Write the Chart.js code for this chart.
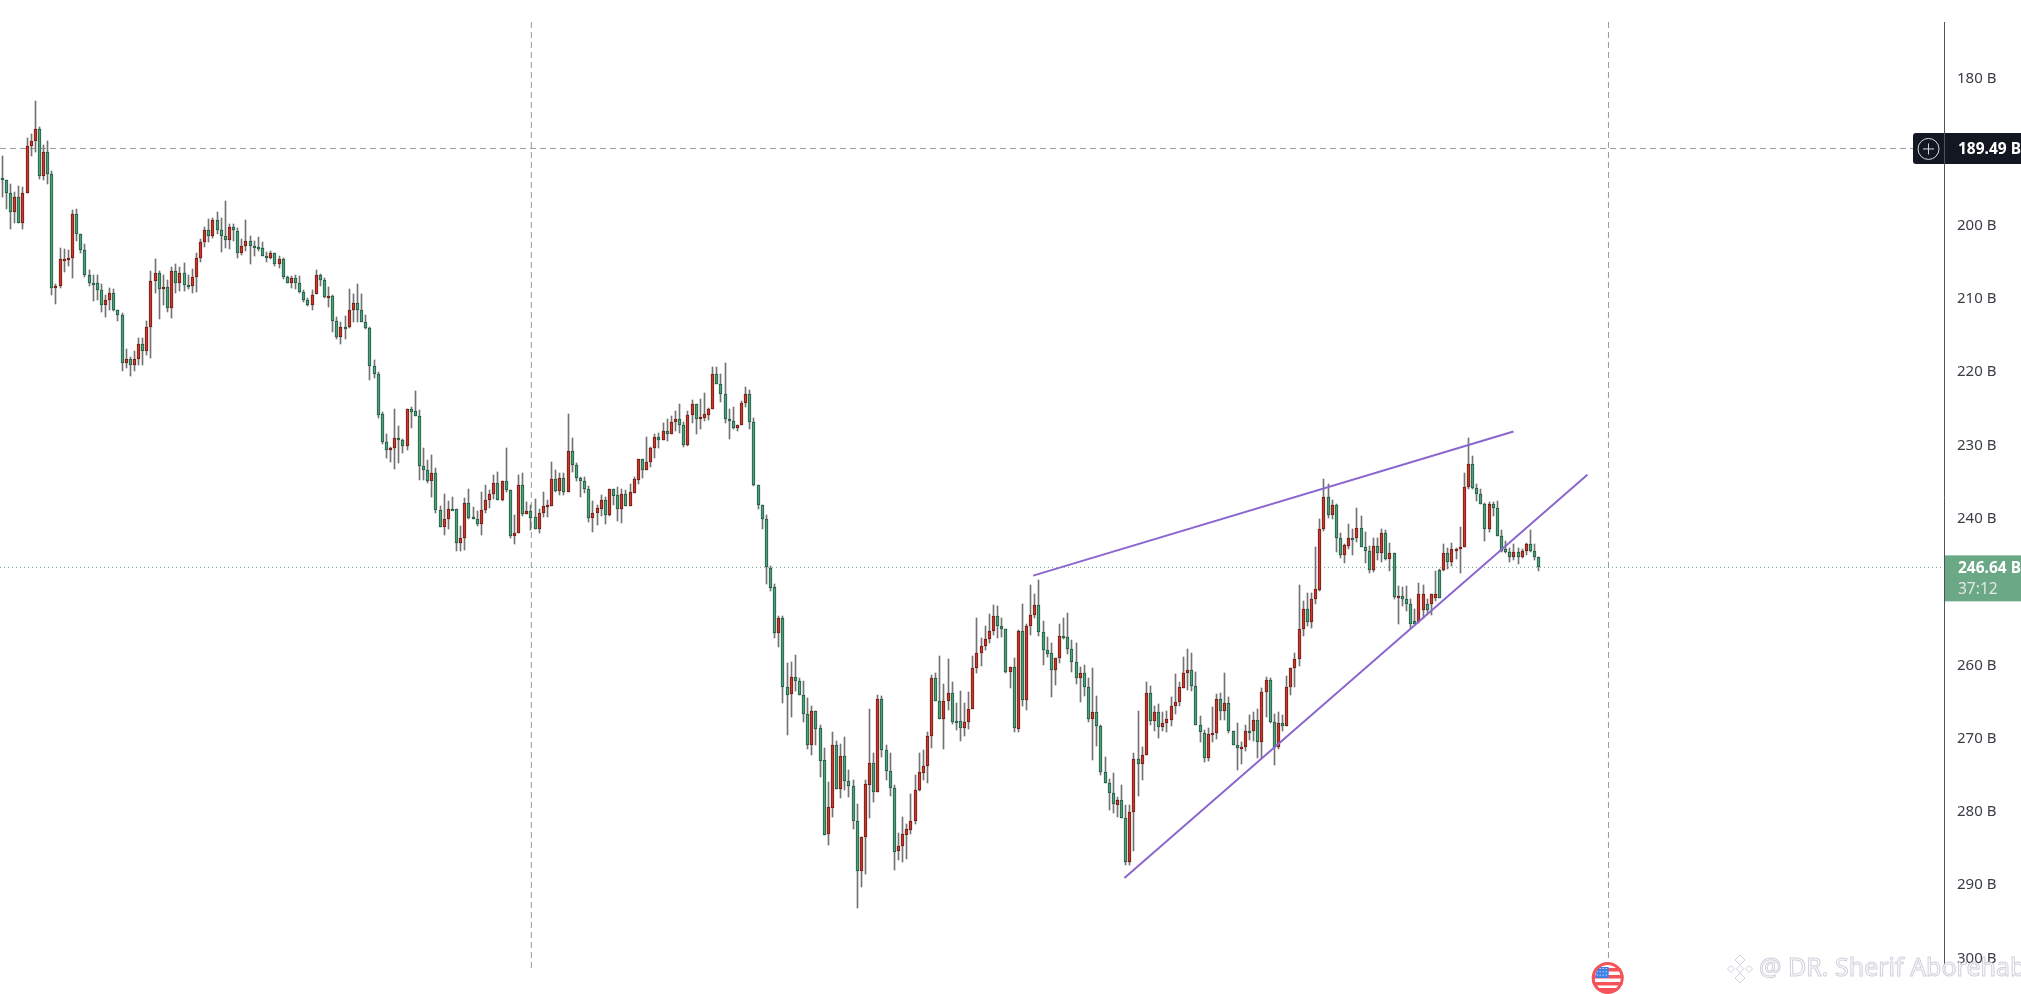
<!DOCTYPE html>
<html>
<head>
<meta charset="utf-8">
<title>Candles</title>
<script src="https://cdn.jsdelivr.net/npm/chart.js@4"></script>
<style>
  html, body { margin: 0; padding: 0; background: #fff; overflow: hidden; }
  canvas { display: block; }
</style>
</head>
<body>
<canvas id="chart" width="2021" height="994"></canvas>
<script>
// price axis is flipped: small values sit at the top of the picture
const tickValues = [180, 200, 210, 220, 230, 240, 260, 270, 280, 290, 300];
const markedPrice = 189.49;
const lastPrice = 246.64;
const countdown = '37:12';
const sessionBreaks = [128.1, 388.9];
const upperTrend = [[249.6, 247.77], [365.9, 228.1]];
const lowerTrend = [[271.7, 289.0], [383.8, 234.0]];

// one letter per candle, G = green, R = red
const candleSides = (
  'GGGRGRRRRG' + 'RGGRRRRRGG' + 'GGGGGRRGGG' + 'RGRRGRRRGR' + 'GRGRGGRRRR' + 'GRGGGRGGRR' + 'GGGGGRGRGG' + 'RGGGGRRGGR' +
  'GGRGRRGGGG' + 'GGGGRRGGRG' + 'GGGGRGGRRG' + 'GRRGGGRRRR' + 'GRGGRRGRGG' + 'RRRRGRGRGG' + 'GGGRRRGRGG' + 'RGRRRGRRRG' +
  'RGRRGGRRGR' + 'RRRGGGGGRR' + 'RGGGGGGGRG' + 'GRGGGGRGGG' + 'RRGRGGGGRR' + 'RGRGGGGRRR' + 'RRRRRRGGRR' + 'GGGRRRRRRR' +
  'RGGGRGRGRR' + 'RGGGGRRGGG' + 'GRGGRGGGGG' + 'RGGRRGRRGR' + 'GRRRRRRRGG' + 'GGRRRGRGGG' + 'RRGRGRRGGR' + 'GRRRRRGRRR' +
  'RGRGGRRGRG' + 'GGRGRGRGRG' + 'GGGRRGRRGR' + 'GRRRRRGGGG' + 'RGGGGGRGRR' + 'GGG'
).split('');

const wickTop = [
  190.5,193.8,194.3,195.4,194.6,194.7,188.1,187.5,183.0,186.5,189.0,188.5,192.6,208.0,203.1,203.2,203.3,197.9,197.8,201.2,
  202.5,206.1,206.8,206.8,208.0,209.5,208.5,208.6,211.5,212.0,216.8,217.9,217.1,215.4,215.4,213.0,206.2,204.6,206.2,206.7,
  207.5,205.7,205.2,205.7,205.1,206.7,205.9,203.8,201.8,200.2,199.1,199.0,198.1,199.0,196.6,199.8,199.8,200.4,201.9,199.2,
  201.5,202.1,201.6,202.2,203.6,203.5,203.7,204.1,204.5,206.9,206.9,206.8,206.9,208.8,209.9,208.8,206.1,206.6,207.2,208.4,
  209.5,212.5,213.1,212.4,208.6,209.4,208.0,209.4,212.2,213.8,218.3,220.0,225.5,228.4,230.2,225.0,227.3,229.1,225.1,224.8,
  222.6,225.2,230.3,232.0,231.3,233.1,238.3,236.6,237.6,237.1,238.7,241.0,237.2,235.9,238.4,238.9,236.4,235.4,236.1,234.1,
  233.6,234.8,230.4,236.1,239.5,234.0,233.8,237.7,238.1,237.3,238.7,236.4,237.4,232.3,233.3,233.7,233.7,225.7,229.0,232.4,
  234.3,234.3,235.5,237.6,238.1,236.7,237.1,236.0,236.0,235.7,235.9,236.1,235.3,234.3,231.8,231.8,228.8,230.2,228.4,228.3,
  226.9,226.4,226.0,225.3,224.4,226.8,225.3,223.8,224.3,223.7,222.8,224.9,219.3,219.3,220.2,218.7,225.1,224.8,227.2,224.0,
  222.0,222.5,226.2,235.4,238.1,239.5,246.4,248.9,253.3,253.3,259.7,259.6,258.6,261.8,262.2,264.5,265.6,266.3,268.2,271.3,
  275.9,269.1,270.3,270.8,269.8,274.3,275.6,278.9,283.4,275.6,265.9,272.0,264.0,264.2,270.9,271.9,276.3,282.9,280.7,281.6,
  277.6,275.0,272.0,271.6,269.1,261.3,261.0,258.7,262.5,259.2,262.3,265.2,263.5,265.2,263.6,258.7,253.5,256.3,254.7,253.0,
  251.8,251.9,253.6,255.0,260.2,259.0,255.2,251.6,254.3,249.0,250.3,248.4,253.9,256.1,257.0,259.0,254.3,253.5,252.8,256.6,
  257.0,260.2,260.0,261.7,260.3,264.2,268.2,272.5,275.5,274.7,278.0,276.3,279.0,279.0,271.9,266.3,271.1,262.3,262.8,265.6,
  265.3,266.4,266.3,264.3,261.2,262.3,258.9,257.8,258.3,260.9,266.9,268.8,268.6,265.7,263.9,263.8,261.1,264.3,268.9,267.9,
  270.4,268.1,266.8,266.4,266.0,263.1,261.6,261.7,266.6,266.4,266.8,261.5,260.3,258.3,249.0,251.2,250.2,250.1,243.8,240.0,
  234.6,235.2,237.4,238.0,242.0,243.5,240.7,241.4,238.6,239.6,241.8,243.7,242.6,242.6,241.4,241.5,243.3,244.7,249.2,249.3,
  249.2,251.0,252.3,248.8,249.0,251.0,250.3,247.1,246.9,243.4,244.0,243.3,244.0,241.2,233.8,229.0,231.4,235.3,236.0,237.9,
  237.7,237.7,237.6,241.5,243.1,244.0,243.4,244.0,244.2,243.3,241.6,243.4,245.2
];

const bodyTop = [
  193.5,193.8,195.5,196.1,196.1,195.5,189.1,188.5,186.9,186.8,190.0,190.0,193.0,208.3,204.6,204.6,204.4,198.4,198.4,201.2,
  203.3,206.7,207.8,207.9,208.8,210.2,209.2,209.2,211.5,212.2,218.2,218.2,218.2,216.1,216.1,213.8,207.6,206.5,206.5,208.4,
  208.4,206.2,206.2,206.5,206.5,208.1,207.0,204.4,202.3,200.6,200.6,199.3,199.3,200.6,201.5,200.2,200.2,200.7,202.8,202.1,
  202.1,202.8,202.9,203.1,204.1,203.8,203.8,204.6,204.6,207.0,207.2,207.2,207.9,209.1,210.1,209.5,206.7,206.7,207.4,209.6,
  209.6,213.0,213.8,213.8,211.5,210.6,210.6,211.5,213.1,214.0,219.2,220.3,225.7,229.5,230.3,229.0,229.0,229.2,225.1,225.1,
  225.3,226.0,232.8,233.3,233.8,233.8,238.8,240.1,238.7,238.7,238.7,242.7,237.9,237.9,239.8,240.0,238.8,237.5,236.6,235.1,
  235.1,234.9,234.9,236.1,241.9,235.4,235.4,239.0,239.0,239.8,239.2,238.3,238.1,234.6,234.6,234.4,234.4,230.7,230.7,232.7,
  234.5,234.9,235.9,239.2,238.5,237.4,237.4,236.0,236.0,236.8,236.6,236.6,236.4,234.6,231.9,231.9,232.3,230.3,228.9,228.9,
  228.1,228.1,226.8,226.4,226.4,227.2,225.9,224.4,224.4,226.1,225.7,225.1,220.3,220.3,221.6,223.0,226.4,226.7,227.2,224.2,
  223.0,223.0,226.8,235.4,238.1,240.1,246.7,249.3,253.5,253.5,262.9,261.6,261.6,262.1,264.0,266.6,266.3,266.3,268.6,272.9,
  279.3,270.9,270.9,272.4,272.4,275.8,276.5,281.3,283.4,276.2,273.3,273.3,264.6,264.6,271.5,274.4,276.7,284.6,283.0,282.3,
  281.3,277.0,274.6,273.7,269.6,261.7,261.7,264.9,264.9,263.8,263.8,267.6,267.6,267.7,265.9,260.4,258.3,257.3,256.4,255.3,
  253.3,253.3,254.6,255.0,260.2,260.2,255.3,255.3,254.6,253.1,251.8,251.8,255.5,257.9,258.3,259.0,256.0,256.0,256.1,257.8,
  259.6,261.1,261.1,263.0,266.4,266.4,268.3,274.5,276.1,277.4,278.4,278.4,280.8,280.0,272.8,272.8,272.3,263.8,263.8,266.4,
  266.4,267.9,267.3,265.6,265.0,263.0,261.0,260.6,260.6,262.8,268.1,269.2,269.4,269.3,264.6,264.6,265.1,265.1,268.9,270.9,
  271.1,268.9,268.9,267.5,267.5,263.7,262.0,262.0,267.7,267.9,267.9,262.9,260.3,259.1,255.1,252.3,252.3,250.9,249.6,241.4,
  237.0,237.0,238.1,238.1,242.6,243.6,242.7,242.7,241.3,241.3,243.9,244.4,243.7,243.7,242.0,242.0,244.7,244.7,250.5,250.5,
  250.9,251.7,254.0,250.3,250.3,251.7,250.3,250.3,247.0,244.7,244.7,244.1,244.1,243.9,235.7,232.5,232.5,235.8,236.6,238.0,
  238.0,238.0,238.5,242.3,244.2,244.5,244.5,244.5,244.4,243.5,243.5,244.4,245.2
];

const bodyBottom = [
  193.8,195.5,198.2,198.2,199.7,199.7,195.5,189.1,188.5,193.2,193.2,193.0,208.5,208.5,208.3,204.7,204.6,204.4,201.2,203.3,
  206.7,207.8,207.9,208.8,210.9,210.9,210.2,211.5,212.2,218.7,218.7,219.0,219.0,218.2,217.1,217.1,213.8,207.6,208.7,208.7,
  211.3,211.3,207.9,207.9,208.1,208.3,208.3,207.0,204.4,202.3,201.5,201.5,200.6,201.5,202.0,202.0,200.6,203.7,203.7,202.8,
  202.8,203.0,203.0,204.1,204.5,204.5,205.3,205.3,207.0,207.8,207.8,207.9,209.1,210.1,210.9,210.9,209.4,207.4,209.8,209.9,
  213.0,215.2,215.2,213.9,213.8,211.5,211.5,213.1,214.0,219.2,220.3,225.8,229.5,230.6,230.6,230.3,229.2,230.1,230.1,225.4,
  226.0,232.8,233.4,234.9,234.9,238.8,241.2,241.2,240.1,238.8,243.3,243.3,242.7,239.9,239.9,240.7,240.7,238.8,237.5,236.6,
  237.5,237.5,236.1,242.3,242.3,242.0,239.3,239.4,239.9,241.4,241.4,239.2,238.3,238.2,236.2,236.2,236.4,236.4,232.7,234.5,
  234.9,235.9,239.9,239.9,239.2,238.7,239.5,239.5,236.9,238.7,238.7,238.3,238.3,236.5,234.7,233.3,233.3,232.3,230.3,229.2,
  229.2,228.4,228.4,226.8,227.2,230.0,230.0,225.9,226.4,226.4,226.2,225.8,225.1,221.6,223.0,226.4,226.7,227.6,227.6,227.2,
  224.2,226.8,235.4,238.1,240.1,246.6,249.4,255.6,255.6,263.0,264.0,263.9,262.2,264.0,266.6,270.9,270.9,268.7,273.0,283.1,
  283.0,279.4,276.9,276.9,275.8,276.5,281.3,288.0,288.0,283.4,276.3,277.3,277.3,271.6,274.4,276.8,285.5,285.4,284.6,283.2,
  282.4,281.3,277.0,274.7,273.7,269.6,264.9,267.3,267.3,264.9,267.8,267.7,268.6,268.6,267.8,265.9,260.4,258.3,257.3,256.4,
  255.3,254.6,255.0,260.9,260.9,268.5,268.7,264.8,264.8,254.6,253.1,255.5,257.9,258.4,260.7,260.7,259.0,256.3,257.8,259.6,
  261.7,261.7,263.0,267.3,267.3,268.3,274.5,276.1,277.4,278.9,279.0,280.8,286.9,286.9,280.0,273.4,273.4,272.3,267.6,267.6,
  268.4,268.4,267.9,267.4,265.6,265.0,263.1,261.0,262.8,268.1,269.1,272.7,272.7,269.5,269.3,266.3,266.3,269.0,270.9,271.3,
  271.3,271.2,269.0,269.0,270.4,270.4,263.7,267.8,271.2,271.2,268.3,268.3,262.9,260.3,259.2,255.1,254.1,254.1,251.0,249.7,
  241.4,239.5,239.5,242.6,245.0,245.0,243.7,242.8,242.7,243.9,244.4,247.0,247.0,244.7,244.7,245.5,245.5,250.7,250.6,251.0,
  251.7,254.3,254.3,254.1,252.5,252.5,251.7,250.8,250.8,247.0,245.9,245.9,244.2,244.2,243.9,235.7,235.8,236.6,238.0,241.4,
  241.4,238.6,242.3,244.4,244.6,245.2,245.2,245.2,245.2,244.4,244.4,245.2,246.64
];

const wickBottom = [
  196.1,197.8,200.5,199.6,199.7,200.5,195.5,190.5,190.0,193.6,193.8,194.3,209.5,210.7,208.5,206.4,205.5,207.2,202.1,203.8,
  207.0,208.2,210.3,210.2,211.8,212.5,211.5,211.7,213.0,219.8,219.5,220.5,219.9,219.0,219.0,217.6,218.1,209.2,212.8,210.8,
  211.8,212.6,209.2,209.0,209.0,208.6,209.2,209.1,205.0,203.0,202.2,201.7,201.2,203.6,203.1,203.2,202.1,204.5,204.0,203.5,
  205.2,204.1,203.5,204.2,205.0,204.6,205.5,205.8,207.3,207.8,208.5,208.6,209.2,210.5,211.0,211.5,209.4,208.3,209.9,211.1,
  214.5,215.5,216.2,215.5,214.0,213.1,213.1,213.1,214.1,221.1,220.8,226.2,229.8,231.7,232.2,233.2,232.4,231.0,230.6,227.6,
  226.0,234.7,234.7,235.1,237.0,239.2,241.2,242.2,241.4,238.8,244.4,244.4,244.3,240.0,240.0,241.0,242.2,239.2,238.5,237.3,
  237.5,237.6,236.4,242.7,243.4,242.0,239.6,239.4,241.6,241.4,242.0,239.8,239.8,238.3,236.4,236.7,236.7,236.4,233.6,234.9,
  237.0,236.5,240.4,241.8,240.9,239.7,240.7,239.7,238.1,240.3,240.6,238.3,238.3,236.5,235.3,234.4,233.3,233.0,231.7,230.4,
  229.2,229.4,228.5,228.0,228.3,230.2,230.1,226.9,228.4,227.8,226.7,226.6,225.1,221.6,224.1,226.9,229.1,227.7,228.0,227.2,
  224.8,227.7,235.5,238.7,241.4,248.9,249.8,256.3,257.5,265.1,269.5,267.1,263.5,264.0,267.8,271.4,272.3,270.9,275.3,283.2,
  284.5,280.7,276.9,278.1,277.0,277.9,282.3,293.1,290.2,288.5,280.8,278.6,277.3,272.5,275.7,277.8,287.9,286.6,286.8,286.4,
  283.0,281.6,277.2,275.6,276.1,271.3,264.9,267.3,271.4,266.1,268.0,268.8,270.3,269.7,268.7,265.9,261.1,260.1,257.9,257.0,
  255.9,256.3,256.1,261.0,263.1,269.1,269.1,265.6,266.1,255.8,253.6,256.0,260.0,258.8,264.3,262.7,259.7,256.4,258.5,260.9,
  262.6,265.0,264.2,267.7,272.9,271.0,275.0,276.1,279.8,280.2,280.7,280.8,287.3,287.3,285.4,277.8,275.7,272.3,268.1,268.9,
  269.9,268.9,269.1,268.3,266.6,265.5,263.1,263.4,263.5,268.2,270.5,273.2,273.0,270.5,270.0,267.5,267.4,269.3,270.9,274.3,
  273.4,271.7,270.2,270.3,272.6,272.6,267.0,267.9,273.6,271.4,268.9,268.3,264.1,262.9,260.1,256.0,254.6,254.9,251.6,249.9,
  241.7,239.9,240.0,244.6,245.3,246.0,244.2,245.0,243.2,243.9,246.0,247.4,247.3,245.7,245.9,245.7,247.2,251.0,254.3,251.9,
  252.6,255.0,254.4,254.2,253.5,253.0,253.2,251.2,250.8,247.1,246.9,246.5,245.5,247.4,243.9,236.0,236.0,237.6,238.0,243.0,
  241.8,239.7,242.4,244.5,244.7,245.9,245.7,246.2,245.3,244.9,244.5,245.7,247.2
];

const colors = {
  bodyGreen: '#4f9e7c', edgeGreen: '#1f5b40',
  bodyRed: '#c8392b', edgeRed: '#6e1c14',
  wick: '#737373', trend: '#8a66cf',
  markLine: '#9598a1', lastLine: '#6fa58c',
  axisLine: '#50535e', tickText: '#3a3d46',
  darkTag: '#131722', greenTag: '#6aa886'
};

const pxPerCandle = 4.13;
const firstCandleX = 2.3;
const plotWidth = 1944;
const xMin = -firstCandleX / pxPerCandle;
const xMax = xMin + plotWidth / pxPerCandle;
const yMin = 172.24;
const yMax = 301.84;

const wicks = wickTop.map((top, i) => ({ x: i, y: [top, wickBottom[i]] }));
const bodies = bodyTop.map((top, i) => ({ x: i, y: [top, bodyBottom[i]] }));
const isGreen = i => candleSides[i] === 'G';

function toPoints(pairs) {
  return pairs.map(p => ({ x: p[0], y: p[1] }));
}

function guideLine(data, color, dash, order) {
  return { type: 'line', data, borderColor: color, borderWidth: 1, borderDash: dash, pointRadius: 0, order, fill: false };
}

// bars land on fractional pixels otherwise and come out blurred
const snapBars = {
  id: 'snapBars',
  beforeDatasetsDraw(chart) {
    chart.data.datasets.forEach((ds, d) => {
      if (ds.type !== 'bar') return;
      chart.getDatasetMeta(d).data.forEach(el => {
        el.x = Math.round(el.x - 0.5) + 0.5;
        el.y = Math.round(el.y);
        el.base = Math.round(el.base);
        if (el.base === el.y) el.base += ds.minHeight;
      });
    });
  }
};

function roundedTag(ctx, x, y, w, h, r, color) {
  ctx.fillStyle = color;
  ctx.beginPath();
  ctx.roundRect(x, y, w, h, r);
  ctx.fill();
}

function drawFlag(ctx, cx, cy, r) {
  ctx.save();
  ctx.beginPath();
  ctx.arc(cx, cy, r, 0, Math.PI * 2);
  ctx.fillStyle = '#fff';
  ctx.fill();
  ctx.clip();
  ctx.fillStyle = '#f4535a';
  [-11, -4, 3, 9].forEach(dy => ctx.fillRect(cx - r, cy + dy + 1, r * 2, 3.5));
  ctx.fillStyle = '#3f7fe8';
  ctx.fillRect(cx - 12, cy - 11, 13, 11);
  ctx.fillStyle = '#fff';
  for (let a = 0; a < 3; a++) {
    for (let b = 0; b < 4; b++) ctx.fillRect(cx - 11 + b * 3, cy - 10 + a * 3.3, 1, 1);
  }
  ctx.restore();
  ctx.beginPath();
  ctx.arc(cx, cy, r - 1.5, 0, Math.PI * 2);
  ctx.strokeStyle = '#f4535a';
  ctx.lineWidth = 3;
  ctx.stroke();
}

function drawDiamond(ctx, cx, cy, s) {
  ctx.beginPath();
  ctx.moveTo(cx, cy - s);
  ctx.lineTo(cx + s, cy);
  ctx.lineTo(cx, cy + s);
  ctx.lineTo(cx - s, cy);
  ctx.closePath();
  ctx.fill();
  ctx.stroke();
}

function drawWatermark(ctx) {
  ctx.save();
  ctx.fillStyle = 'rgba(255,255,255,0.9)';
  ctx.strokeStyle = 'rgba(170,170,190,0.55)';
  ctx.lineWidth = 1;
  [[0, -9, 5], [-9, 0, 3.5], [9, 0, 3.5], [0, 0, 3.5], [0, 9, 5]].forEach(d => drawDiamond(ctx, 1740 + d[0], 969 + d[1], d[2]));
  ctx.font = '25px "Noto Sans"';
  ctx.textAlign = 'left';
  ctx.textBaseline = 'middle';
  ctx.lineWidth = 1;
  ctx.fillText('@ DR. Sherif Aborehab', 1759, 969);
  ctx.strokeText('@ DR. Sherif Aborehab', 1759, 969);
  ctx.restore();
}

const priceTags = {
  id: 'priceTags',
  afterDraw(chart) {
    const ctx = chart.ctx;
    const y = chart.scales.y;
    const markY = y.getPixelForValue(markedPrice);
    const lastY = y.getPixelForValue(lastPrice);
    ctx.save();
    // dark tag with plus button
    roundedTag(ctx, 1913, markY - 15.5, 120, 31, 3, colors.darkTag);
    ctx.strokeStyle = '#50535e';
    ctx.lineWidth = 1;
    ctx.beginPath();
    ctx.moveTo(1944.5, markY - 15.5);
    ctx.lineTo(1944.5, markY + 15.5);
    ctx.stroke();
    ctx.strokeStyle = '#d8d9dc';
    ctx.beginPath();
    ctx.arc(1928.5, markY + 0.5, 10.5, 0, Math.PI * 2);
    ctx.moveTo(1923, markY + 0.5);
    ctx.lineTo(1934, markY + 0.5);
    ctx.moveTo(1928.5, markY - 5);
    ctx.lineTo(1928.5, markY + 6);
    ctx.stroke();
    ctx.textAlign = 'left';
    ctx.textBaseline = 'middle';
    ctx.fillStyle = '#fff';
    ctx.font = 'bold 15.5px "Noto Sans"';
    ctx.fillText(markedPrice.toFixed(2) + ' B', 1958, markY + 1);
    // green tag with countdown
    ctx.fillStyle = colors.greenTag;
    ctx.fillRect(1945, lastY - 12, 76, 46);
    ctx.fillStyle = '#fff';
    ctx.fillText(lastPrice.toFixed(2) + ' B', 1958, lastY + 1);
    ctx.fillStyle = '#e4e6e8';
    ctx.font = '15.5px "Noto Sans"';
    ctx.fillText(countdown, 1958, lastY + 22);
    ctx.restore();
    drawFlag(ctx, 1607.7, 978, 16);
    drawWatermark(ctx);
  }
};

new Chart(document.getElementById('chart'), {
  data: {
    datasets: [
      {
        type: 'bar', data: wicks, grouped: false, barThickness: 1, minHeight: 1, order: 5,
        backgroundColor: colors.wick, borderWidth: 0
      },
      {
        type: 'bar', data: bodies, grouped: false, barThickness: 3, minHeight: 2, minBarLength: 2, order: 4,
        backgroundColor: ctx => (isGreen(ctx.dataIndex) ? colors.bodyGreen : colors.bodyRed),
        borderColor: ctx => (isGreen(ctx.dataIndex) ? colors.edgeGreen : colors.edgeRed),
        borderWidth: 1, borderSkipped: false
      },
      guideLine(toPoints([[xMin, markedPrice], [xMax, markedPrice]]), colors.markLine, [6, 4], 6),
      guideLine(toPoints([[xMin, lastPrice], [xMax, lastPrice]]), colors.lastLine, [1, 3], 6),
      guideLine(toPoints([[sessionBreaks[0], yMin], [sessionBreaks[0], yMax]]), colors.markLine, [6, 4], 6),
      guideLine(toPoints([[sessionBreaks[1], yMin], [sessionBreaks[1], yMax]]), colors.markLine, [6, 4], 6),
      { type: 'line', data: toPoints(upperTrend), borderColor: colors.trend, borderWidth: 2, pointRadius: 0, order: 1 },
      { type: 'line', data: toPoints(lowerTrend), borderColor: colors.trend, borderWidth: 2, pointRadius: 0, order: 1 }
    ]
  },
  options: {
    responsive: false,
    animation: false,
    layout: { padding: 0 },
    plugins: { legend: { display: false }, tooltip: { enabled: false } },
    scales: {
      x: { type: 'linear', min: xMin, max: xMax, display: false, offset: false },
      y: {
        position: 'right',
        reverse: true,
        min: yMin,
        max: yMax,
        afterBuildTicks: axis => { axis.ticks = tickValues.map(v => ({ value: v })); },
        afterFit: axis => { axis.width = 2021 - plotWidth; },
        grid: { display: false, drawTicks: false },
        border: { display: true, color: colors.axisLine, width: 1 },
        ticks: {
          padding: 13,
          color: colors.tickText,
          font: { family: '"Noto Sans"', size: 15 },
          callback: v => v + ' B'
        }
      }
    }
  },
  plugins: [snapBars, priceTags]
});
</script>
</body>
</html>
